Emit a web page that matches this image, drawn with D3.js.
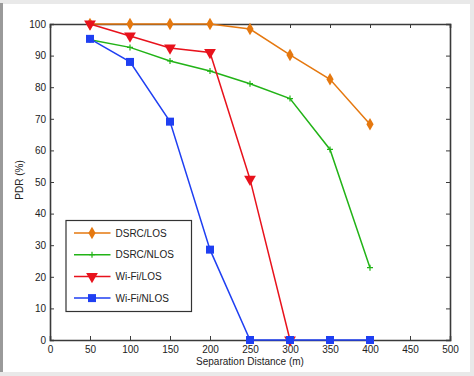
<!DOCTYPE html>
<html><head><meta charset="utf-8">
<script src="https://cdn.jsdelivr.net/npm/d3@7"></script>
<style>
html,body{margin:0;padding:0;background:#e9e9e9;}
svg{display:block;font-family:"Liberation Sans",Arial,sans-serif;}
</style></head>
<body><svg id="c" width="474" height="376"></svg>
<script>
const distances = [50,100,150,200,250,300,350,400];
const dsrcLos  = [100,100,100,100,98.4,90.2,82.5,68.3];
const dsrcNlos = [95,92.6,88.3,85.1,81.1,76.4,60.3,22.9];
const wifiLos  = [100,96.2,92.4,91,50.9,0];
const wifiNlos = [95.3,88,69.1,28.6,0,0,0,0];
const seriesNames = ["DSRC/LOS","DSRC/NLOS","Wi-Fi/LOS","Wi-Fi/NLOS"];
const seriesColors = ["#e5780f","#22b317","#e8121c","#1f3ff2"];
const seriesMarkers = ["diamond","plus","triangle","square"];
const xTicks = [0,50,100,150,200,250,300,350,400,450,500];
const yTicks = [0,10,20,30,40,50,60,70,80,90,100];

const svg = d3.select("#c");
svg.append("rect").attr("x",0).attr("y",0).attr("width",474).attr("height",376).attr("fill","#e9e9e9");
svg.append("rect").attr("x",0).attr("y",3).attr("width",3).attr("height",369).attr("fill","#9a9a9a");
svg.append("rect").attr("x",3).attr("y",4).attr("width",467).attr("height",368).attr("fill","#ffffff");

const L=50,R=450,T=24,B=340;
const x = d3.scaleLinear().domain([0,500]).range([L,R]);
const y = d3.scaleLinear().domain([0,100]).range([B,T]);

const axisColor="#3a3a3a";
const gx = svg.append("g").attr("transform",`translate(0,${B})`)
  .call(d3.axisBottom(x).tickValues(xTicks).tickSize(-4).tickPadding(6).tickFormat(d3.format("d")));
const gy = svg.append("g").attr("transform",`translate(${L},0)`)
  .call(d3.axisLeft(y).tickValues(yTicks).tickSize(-4).tickPadding(4).tickFormat(d3.format("d")));
const gt = svg.append("g").attr("transform",`translate(0,${T})`)
  .call(d3.axisTop(x).tickValues(xTicks).tickSize(-4).tickFormat(""));
const gr = svg.append("g").attr("transform",`translate(${R},0)`)
  .call(d3.axisRight(y).tickValues(yTicks).tickSize(-4).tickFormat(""));
[gx,gy,gt,gr].forEach(g=>{
  g.select(".domain").attr("stroke",axisColor).attr("stroke-width",1.6);
  g.selectAll(".tick line").attr("stroke",axisColor).attr("stroke-width",1);
  g.selectAll(".tick text").attr("fill","#222").attr("font-size",10).attr("font-family","Liberation Sans, Arial, sans-serif");
});

const allData = [dsrcLos,dsrcNlos,wifiLos,wifiNlos];
const line = d3.line().x(d=>x(d[0])).y(d=>y(d[1]));

function marker(g, type, cx, cy, color){
  if(type==="diamond"){
    g.append("path").attr("d",d3.symbol(d3.symbolDiamond,45)()).attr("transform",`translate(${cx},${cy})`).attr("fill",color);
  } else if(type==="plus"){
    g.append("path").attr("d",`M${cx-3},${cy}H${cx+3}M${cx},${cy-3}V${cy+3}`).attr("stroke",color).attr("stroke-width",1.2);
  } else if(type==="triangle"){
    g.append("path").attr("d",d3.symbol(d3.symbolTriangle,60)()).attr("transform",`translate(${cx},${cy}) rotate(180)`).attr("fill",color);
  } else if(type==="square"){
    g.append("path").attr("d",d3.symbol(d3.symbolSquare,64)()).attr("transform",`translate(${cx},${cy})`).attr("fill",color);
  }
}

allData.forEach((vals,i)=>{
  const pts = vals.map((v,j)=>[distances[j],v]);
  const g = svg.append("g");
  g.append("path").datum(pts).attr("d",line).attr("fill","none").attr("stroke",seriesColors[i]).attr("stroke-width",1.5);
  pts.forEach(p=>marker(g,seriesMarkers[i],x(p[0]),y(p[1]),seriesColors[i]));
});

const lg = svg.append("g");
lg.append("rect").attr("x",66).attr("y",220.5).attr("width",125.5).attr("height",91).attr("fill","#fff").attr("stroke","#333").attr("stroke-width",1.2);
seriesNames.forEach((n,i)=>{
  const ly = 233 + i*21.7;
  lg.append("line").attr("x1",74).attr("x2",110.5).attr("y1",ly).attr("y2",ly).attr("stroke",seriesColors[i]).attr("stroke-width",1.5);
  marker(lg,seriesMarkers[i],92,ly,seriesColors[i]);
  lg.append("text").attr("x",115.5).attr("y",ly).attr("dy","0.35em").attr("font-size",10).attr("fill","#222").text(n);
});

svg.append("text").attr("x",250).attr("y",365).attr("text-anchor","middle").attr("font-size",10).attr("fill","#222").text("Separation Distance (m)");
svg.append("text").attr("transform","translate(23,180) rotate(-90)").attr("text-anchor","middle").attr("font-size",10).attr("fill","#222").text("PDR (%)");
</script></body></html>
